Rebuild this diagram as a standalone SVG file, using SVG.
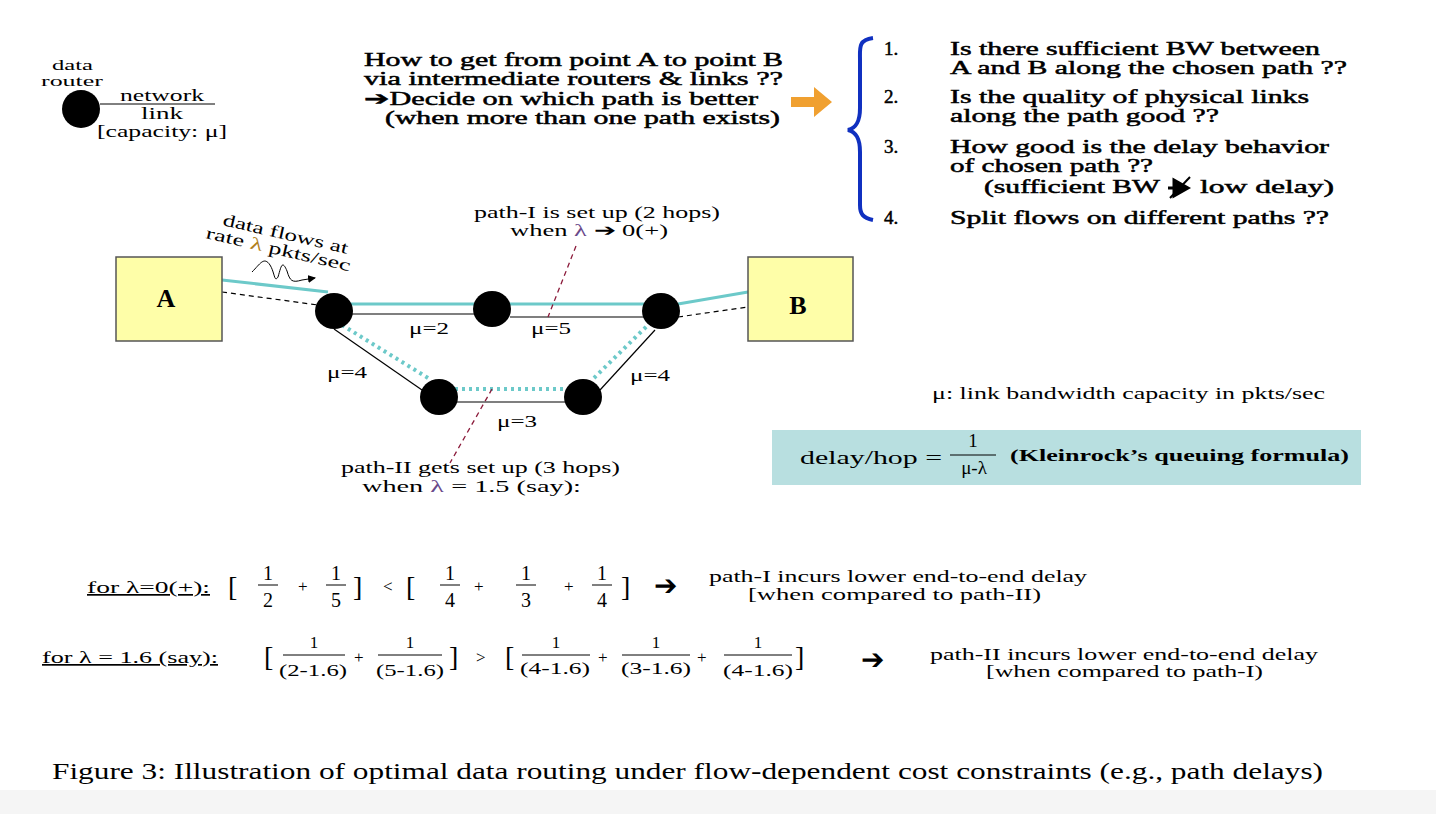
<svg xmlns="http://www.w3.org/2000/svg" width="1436" height="814" viewBox="0 0 1436 814">
<style>
.s{font-family:"Liberation Serif",serif;fill:#000}
.t{font-size:19px}
.m{font-size:17px}
.q{font-size:20px}
.h{stroke:#000;stroke-width:0.5}
.b{font-weight:bold}
.box{fill:#fefea8;stroke:#555;stroke-width:1.5}
.cy{stroke:#6cc9c9;stroke-width:3;fill:none}
.cd{stroke:#6cc9c9;stroke-width:4;fill:none;stroke-dasharray:3 4}
.bl{stroke:#000;stroke-width:1.2;fill:none}
.dash{stroke:#000;stroke-width:1.2;fill:none;stroke-dasharray:5 4}
.red{stroke:#8b1a3a;stroke-width:1.3;fill:none;stroke-dasharray:5 4}
.fl{stroke:#000;stroke-width:1}
</style>
<defs><marker id="ah" markerWidth="8" markerHeight="8" refX="7" refY="4" orient="auto"><path d="M0,0L8,4L0,8z" fill="#000"/></marker></defs>
<rect width="1436" height="814" fill="#fff"/>
<rect y="790" width="1436" height="24" fill="#f5f5f5"/>
<g id="legend">
<text class="s" x="52" y="70" textLength="41" lengthAdjust="spacingAndGlyphs" font-size="15">data</text>
<text class="s" x="41" y="86" textLength="62" lengthAdjust="spacingAndGlyphs" font-size="15">router</text>
<circle cx="81" cy="109" r="19"/>
<line x1="100" y1="104" x2="215" y2="104" class="fl"/>
<text class="s" font-size="16" x="120" y="101" textLength="84" lengthAdjust="spacingAndGlyphs">network</text>
<text class="s" font-size="16" x="141" y="119" textLength="42" lengthAdjust="spacingAndGlyphs">link</text>
<text class="s" font-size="16" x="97" y="137" textLength="130" lengthAdjust="spacingAndGlyphs">[capacity: μ]</text>
</g>
<g id="question" class="s t h">
<text x="364" y="66" textLength="419" lengthAdjust="spacingAndGlyphs">How to get from point A to point B</text>
<text x="364" y="85" textLength="419" lengthAdjust="spacingAndGlyphs">via intermediate routers &amp; links  ??</text>
<text x="364" y="105" textLength="394" lengthAdjust="spacingAndGlyphs">➔Decide on which path is better</text>
<text x="385" y="124" textLength="395" lengthAdjust="spacingAndGlyphs">(when more than one path exists)</text>
</g>
<path id="orange" d="M791,97h23v-10l18,15l-18,15v-10h-23z" fill="#f0a030"/>
<path id="brace" d="M873,38C858,40 860,48 860,60V108C860,122 856,128 848,130C856,132 860,138 860,152V205C860,214 863,218 873,220" stroke="#1030c0" stroke-width="4" fill="none"/>
<g id="list" class="s t h">
<text x="884" y="55">1.</text><text x="950" y="55" textLength="370" lengthAdjust="spacingAndGlyphs">Is there sufficient BW between</text><text x="950" y="74" textLength="397" lengthAdjust="spacingAndGlyphs">A and B along the chosen path ??</text>
<text x="884" y="103">2.</text><text x="950" y="103" textLength="359" lengthAdjust="spacingAndGlyphs">Is the quality of physical links</text><text x="950" y="122" textLength="269" lengthAdjust="spacingAndGlyphs">along the path good ??</text>
<text x="884" y="153">3.</text><text x="950" y="153" textLength="379" lengthAdjust="spacingAndGlyphs">How good is the delay behavior</text><text x="950" y="172" textLength="203" lengthAdjust="spacingAndGlyphs">of chosen path ??</text>
<text x="984" y="193" textLength="176" lengthAdjust="spacingAndGlyphs">(sufficient BW</text><text x="1200" y="193" textLength="134" lengthAdjust="spacingAndGlyphs">low delay)</text>
<text x="884" y="224">4.</text><text x="950" y="224" textLength="379" lengthAdjust="spacingAndGlyphs">Split flows on different paths ??</text>
</g>
<path d="M1174,180l14,8l-14,8z M1168,188h10" fill="#000" stroke="#000" stroke-width="3"/>
<line x1="1170" y1="198" x2="1190" y2="177" stroke="#000" stroke-width="2"/>
<g id="connectors">
<line x1="222" y1="280" x2="328" y2="292" class="cy"/>
<line x1="222" y1="292" x2="318" y2="305" class="dash"/>
<line x1="350" y1="304" x2="645" y2="304" class="cy"/>
<line x1="350" y1="314" x2="475" y2="314" class="bl"/>
<line x1="510" y1="317" x2="645" y2="317" class="bl"/>
<line x1="678" y1="304" x2="748" y2="292" class="cy"/>
<line x1="678" y1="317" x2="748" y2="307" class="dash"/>
<line x1="342" y1="325" x2="428" y2="378" class="cd"/>
<line x1="334" y1="329" x2="422" y2="390" class="bl"/>
<line x1="455" y1="389" x2="566" y2="389" class="cd"/>
<line x1="455" y1="402" x2="566" y2="402" class="bl"/>
<line x1="594" y1="378" x2="648" y2="325" class="cd"/>
<line x1="600" y1="390" x2="655" y2="330" class="bl"/>
<line x1="576" y1="246" x2="548" y2="317" class="red"/>
<line x1="492" y1="389" x2="450" y2="463" class="red"/>
<path d="M252,272c8,-8 12,-16 18,-7c5,8 4,18 8,12c3,-10 4,-18 9,-6c3,10 5,12 15,9l13,-2" stroke="#000" stroke-width="1" fill="none" marker-end="url(#ah)"/>
</g>
<g id="A"><rect x="116" y="257" width="106" height="84" class="box"/><text class="s b" x="166" y="307" font-size="26" text-anchor="middle">A</text></g>
<g id="B"><rect x="748" y="257" width="105" height="84" class="box"/><text class="s b" x="798" y="314" font-size="26" text-anchor="middle">B</text></g>
<g id="nodes">
<ellipse cx="334" cy="311" rx="19" ry="18"/><ellipse cx="492" cy="309" rx="19" ry="18"/>
<ellipse cx="661" cy="311" rx="19" ry="18"/><ellipse cx="439" cy="397" rx="19" ry="18"/>
<ellipse cx="583" cy="397" rx="19" ry="18"/>
</g>
<g id="labels" class="s m">
<text x="409" y="334" textLength="40" lengthAdjust="spacingAndGlyphs">μ=2</text><text x="531" y="334" textLength="40" lengthAdjust="spacingAndGlyphs">μ=5</text>
<text x="327" y="378" textLength="40" lengthAdjust="spacingAndGlyphs">μ=4</text><text x="630" y="381" textLength="40" lengthAdjust="spacingAndGlyphs">μ=4</text>
<text x="497" y="427" textLength="40" lengthAdjust="spacingAndGlyphs">μ=3</text>
<text x="474" y="218" textLength="246" lengthAdjust="spacingAndGlyphs">path-I is set up (2 hops)</text>
<text x="510" y="236" textLength="158" lengthAdjust="spacingAndGlyphs">when <tspan fill="#6a4a8a">λ</tspan> ➔ 0(+)</text>
<text x="341" y="473" textLength="279" lengthAdjust="spacingAndGlyphs">path-II gets set up (3 hops)</text>
<text x="362" y="492" textLength="219" lengthAdjust="spacingAndGlyphs">when <tspan fill="#6a4a8a">λ</tspan> = 1.5 (say):</text>
<text x="222" y="225" transform="rotate(13 222 225)" textLength="128" lengthAdjust="spacingAndGlyphs">data flows at</text>
<text x="205" y="238" transform="rotate(13 205 238)" textLength="148" lengthAdjust="spacingAndGlyphs">rate <tspan fill="#b08020">λ</tspan> pkts/sec</text>
<text x="932" y="399" textLength="393" lengthAdjust="spacingAndGlyphs">μ: link bandwidth capacity in pkts/sec</text>
</g>
<g id="formula">
<rect x="772" y="430" width="589" height="55" fill="#b8dfe0"/>
<text class="s t" x="800" y="464" textLength="142" lengthAdjust="spacingAndGlyphs">delay/hop =</text>
<text class="s t" x="973" y="447" text-anchor="middle">1</text>
<line x1="950" y1="455" x2="996" y2="455" class="fl"/>
<text class="s t" x="974" y="474" text-anchor="middle">μ-λ</text>
<text class="s m b" x="1010" y="461" fill="#c03090" textLength="339" lengthAdjust="spacingAndGlyphs">(Kleinrock’s queuing formula)</text>
</g>
<g id="eq1" class="s">
<text class="m" x="87" y="593" text-decoration="underline" textLength="123" lengthAdjust="spacingAndGlyphs">for  λ=0(+):</text>
<text x="228" y="596" font-size="28">[</text>
<text class="q" x="268" y="580" text-anchor="middle">1</text><line x1="258" y1="585" x2="278" y2="585" class="fl"/><text class="q" x="268" y="607" text-anchor="middle">2</text>
<text class="m" x="298" y="592">+</text>
<text class="q" x="336" y="580" text-anchor="middle">1</text><line x1="326" y1="585" x2="346" y2="585" class="fl"/><text class="q" x="336" y="607" text-anchor="middle">5</text>
<text x="353" y="596" font-size="28">]</text>
<text class="m" x="383" y="592">&lt;</text>
<text x="406" y="596" font-size="28">[</text>
<text class="q" x="450" y="580" text-anchor="middle">1</text><line x1="440" y1="585" x2="460" y2="585" class="fl"/><text class="q" x="450" y="607" text-anchor="middle">4</text>
<text class="m" x="474" y="592">+</text>
<text class="q" x="526" y="580" text-anchor="middle">1</text><line x1="516" y1="585" x2="536" y2="585" class="fl"/><text class="q" x="526" y="607" text-anchor="middle">3</text>
<text class="m" x="564" y="592">+</text>
<text class="q" x="602" y="580" text-anchor="middle">1</text><line x1="592" y1="585" x2="612" y2="585" class="fl"/><text class="q" x="602" y="607" text-anchor="middle">4</text>
<text x="621" y="596" font-size="28">]</text>
<text x="654" y="595" font-size="28">➔</text>
<text class="m" x="709" y="582" textLength="378" lengthAdjust="spacingAndGlyphs">path-I incurs lower end-to-end delay</text>
<text class="m" x="748" y="600" textLength="293" lengthAdjust="spacingAndGlyphs">[when compared to path-II)</text>
</g>
<g id="eq2" class="s">
<text class="m" x="42" y="663" text-decoration="underline" textLength="176" lengthAdjust="spacingAndGlyphs">for λ = 1.6 (say):</text>
<text x="264" y="666" font-size="28">[</text>
<text class="m" x="314" y="648" text-anchor="middle">1</text><line x1="283" y1="655" x2="345" y2="655" class="fl"/><text class="m" x="279" y="676" textLength="68" lengthAdjust="spacingAndGlyphs">(2-1.6)</text>
<text class="m" x="354" y="663">+</text>
<text class="m" x="410" y="648" text-anchor="middle">1</text><line x1="378" y1="655" x2="442" y2="655" class="fl"/><text class="m" x="376" y="676" textLength="68" lengthAdjust="spacingAndGlyphs">(5-1.6)</text>
<text x="449" y="666" font-size="28">]</text>
<text class="m" x="476" y="663">&gt;</text>
<text x="505" y="666" font-size="28">[</text>
<text class="m" x="556" y="648" text-anchor="middle">1</text><line x1="522" y1="655" x2="590" y2="655" class="fl"/><text class="m" x="520" y="674" textLength="70" lengthAdjust="spacingAndGlyphs">(4-1.6)</text>
<text class="m" x="598" y="663">+</text>
<text class="m" x="656" y="648" text-anchor="middle">1</text><line x1="622" y1="655" x2="690" y2="655" class="fl"/><text class="m" x="621" y="674" textLength="70" lengthAdjust="spacingAndGlyphs">(3-1.6)</text>
<text class="m" x="697" y="663">+</text>
<text class="m" x="758" y="648" text-anchor="middle">1</text><line x1="724" y1="655" x2="792" y2="655" class="fl"/><text class="m" x="723" y="676" textLength="70" lengthAdjust="spacingAndGlyphs">(4-1.6)</text>
<text x="795" y="666" font-size="28">]</text>
<text x="861" y="669" font-size="28">➔</text>
<text class="m" x="930" y="660" textLength="388" lengthAdjust="spacingAndGlyphs">path-II incurs lower end-to-end delay</text>
<text class="m" x="986" y="677" textLength="277" lengthAdjust="spacingAndGlyphs">[when compared to path-I)</text>
</g>
<text id="caption" class="s" x="52" y="779" font-size="24" textLength="1271" lengthAdjust="spacingAndGlyphs">Figure 3: Illustration of optimal data routing under flow-dependent cost constraints (e.g., path delays)</text>
</svg>
